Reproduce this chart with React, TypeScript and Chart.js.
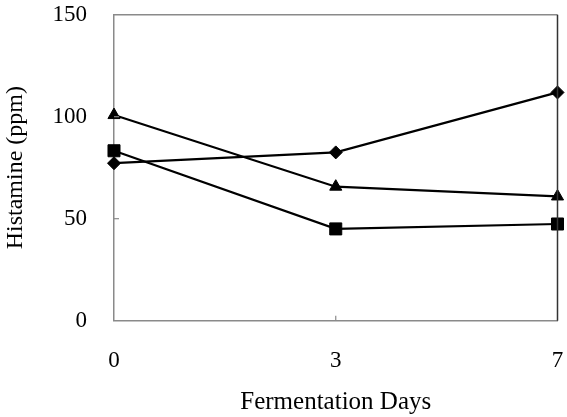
import React, { useEffect, useRef } from "react";
import { Chart, registerables } from "chart.js";

Chart.register(...registerables);

const days = ["0", "3", "7"];
const diamondSeries = [77.2, 82.5, 111.9];
const triangleSeries = [100.8, 65.7, 60.9];
const squareSeries = [83.3, 45.0, 47.4];
const yTicks = [0, 50, 100, 150];

const SERIF = "'Liberation Serif', 'Times New Roman', serif";

// Draws the frame's top/right edges and the short inward tick marks.
const framePlugin = {
  id: "frame",
  afterDatasetsDraw(chart: any) {
    const { ctx, chartArea, scales } = chart;
    const { left, right, top, bottom } = chartArea;
    ctx.save();
    ctx.lineWidth = 1.5;
    ctx.strokeStyle = "#8a8a8a";
    ctx.beginPath();
    ctx.moveTo(left, top);
    ctx.lineTo(right, top);
    ctx.stroke();
    ctx.strokeStyle = "#333333";
    ctx.beginPath();
    ctx.moveTo(right, top);
    ctx.lineTo(right, bottom);
    ctx.stroke();

    ctx.strokeStyle = "#8a8a8a";
    ctx.lineWidth = 1.2;
    const tickLen = 5;
    for (const v of yTicks) {
      if (v === yTicks[0] || v === yTicks[yTicks.length - 1]) continue;
      const y = scales.y.getPixelForValue(v);
      ctx.beginPath();
      ctx.moveTo(left, y);
      ctx.lineTo(left + tickLen, y);
      ctx.stroke();
    }
    for (let i = 1; i < days.length - 1; i++) {
      const x = scales.x.getPixelForValue(i);
      ctx.beginPath();
      ctx.moveTo(x, bottom);
      ctx.lineTo(x, bottom - tickLen);
      ctx.stroke();
    }
    ctx.restore();
  },
};

export default function App() {
  const canvasRef = useRef<HTMLCanvasElement | null>(null);

  useEffect(() => {
    if (!canvasRef.current) return;
    const common = {
      borderColor: "#000000",
      backgroundColor: "#000000",
      borderWidth: 2.2,
      pointBorderWidth: 1,
      tension: 0,
      fill: false,
    };
    const chart = new Chart(canvasRef.current, {
      type: "line",
      data: {
        labels: days,
        datasets: [
          { ...common, label: "diamond", data: diamondSeries, pointStyle: "rectRot", pointRadius: 6.5 },
          { ...common, label: "triangle", data: triangleSeries, pointStyle: "triangle", pointRadius: 7 },
          { ...common, label: "square", data: squareSeries, pointStyle: "rect", pointRadius: 8.5 },
        ],
      },
      options: {
        animation: false,
        responsive: false,
        devicePixelRatio: 1,
        layout: { padding: { top: 14.7, right: 8, bottom: 0, left: 0 } },
        plugins: { legend: { display: false }, tooltip: { enabled: false } },
        scales: {
          x: {
            type: "category",
            offset: false,
            grid: { display: true, drawOnChartArea: false, drawTicks: false },
            border: { display: true, color: "#8a8a8a", width: 1.5 },
            ticks: {
              color: "#000000",
              padding: 26,
              maxRotation: 0,
              font: { family: SERIF, size: 23 },
            },
            title: {
              display: true,
              text: "Fermentation Days",
              color: "#000000",
              padding: { top: 0, bottom: 0 },
              font: { family: SERIF, size: 25 },
            },
            afterFit(scale: any) {
              scale.height = 96.3;
              scale.paddingLeft = 0;
              scale.paddingRight = 0;
            },
          },
          y: {
            type: "linear",
            min: 0,
            max: 150,
            grid: { display: true, drawOnChartArea: false, drawTicks: false },
            border: { display: true, color: "#8a8a8a", width: 1.5 },
            ticks: {
              color: "#000000",
              padding: 27,
              stepSize: 50,
              font: { family: SERIF, size: 23 },
            },
            title: {
              display: true,
              text: "Histamine (ppm)",
              color: "#000000",
              padding: { top: 1, bottom: 0 },
              font: { family: SERIF, size: 24 },
            },
            afterFit(scale: any) {
              scale.width = 114;
              scale.paddingTop = 0;
              scale.paddingBottom = 0;
            },
          },
        },
      },
      plugins: [framePlugin],
    });
    return () => chart.destroy();
  }, []);

  return (
    <div style={{ position: "fixed", left: 0, top: 0, width: 567, height: 417, background: "#ffffff" }}>
      <canvas ref={canvasRef} width={567} height={417} style={{ width: 567, height: 417 }} />
    </div>
  );
}
